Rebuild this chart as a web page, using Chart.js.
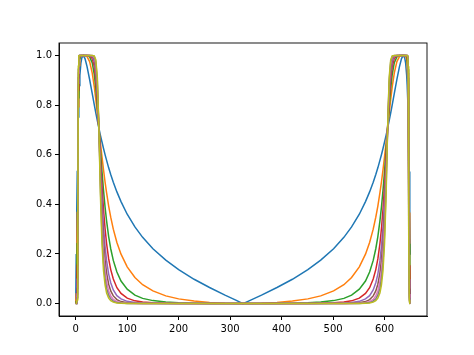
<!DOCTYPE html>
<html>
<head>
<meta charset="utf-8">
<script src="https://cdn.jsdelivr.net/npm/chart.js@4.4.1/dist/chart.umd.min.js"></script>
<style>
  body { margin: 0; background: #fff; }
  #wrap { width: 474px; height: 355px; }
</style>
</head>
<body>
<div id="wrap"><canvas id="plot"></canvas></div>
<script>
// sample positions (bin index)
const xs = [0,1,2,3,4,5,6,7,8,10,12,15,18,22,27,32,36,39,42,45,48,51,54,57,60,64,68,73,80,88,100,115,130,150,175,200,230,260,290,310,325,
  326,341,361,391,421,451,476,501,521,536,551,563,571,578,583,587,591,594,597,600,603,606,609,612,615,619,624,629,633,636,639,641,643,644,645,646,647,648,649,650];

// gain curves, one per filter order
const order1 = [0,0.197,0.378,0.532,0.656,0.752,0.825,0.879,0.919,0.969,0.992,0.999,0.987,0.955,0.903,0.847,0.802,0.769,0.737,0.707,0.678,0.651,0.625,0.600,0.577,0.547,0.520,0.489,0.450,0.411,0.360,0.309,0.267,0.221,0.175,0.137,0.098,0.065,0.034,0.015,0,
  0,0.015,0.034,0.065,0.098,0.137,0.175,0.221,0.267,0.309,0.360,0.411,0.450,0.489,0.520,0.547,0.577,0.600,0.625,0.651,0.678,0.707,0.737,0.769,0.802,0.847,0.903,0.955,0.987,0.999,0.992,0.969,0.919,0.879,0.825,0.752,0.656,0.532,0.378,0.197];
const order2 = [0,0.040,0.165,0.367,0.603,0.793,0.905,0.959,0.983,0.998,1,1,1,0.995,0.975,0.930,0.874,0.823,0.766,0.707,0.648,0.592,0.539,0.490,0.446,0.393,0.348,0.300,0.246,0.199,0.148,0.105,0.076,0.051,0.031,0.019,0.010,0.004,0.001,0,0,
  0,0,0.001,0.004,0.010,0.019,0.031,0.051,0.076,0.105,0.148,0.199,0.246,0.300,0.348,0.393,0.446,0.490,0.539,0.592,0.648,0.707,0.766,0.823,0.874,0.930,0.975,0.995,1,1,1,0.998,0.983,0.959,0.905,0.793,0.603,0.367,0.165,0.040];
const order3 = [0,0.008,0.068,0.241,0.549,0.829,0.952,0.987,0.997,1,1,1,1,1,0.994,0.971,0.924,0.867,0.793,0.707,0.618,0.533,0.456,0.389,0.332,0.270,0.221,0.174,0.127,0.091,0.058,0.034,0.021,0.012,0.006,0.003,0.001,0,0,0,0,
  0,0,0,0,0.001,0.003,0.006,0.012,0.021,0.034,0.058,0.091,0.127,0.174,0.221,0.270,0.332,0.389,0.456,0.533,0.618,0.707,0.793,0.867,0.924,0.971,0.994,1,1,1,1,1,0.997,0.987,0.952,0.829,0.549,0.241,0.068,0.008];
const order4 = [0,0.002,0.028,0.154,0.495,0.861,0.976,0.996,0.999,1,1,1,1,1,0.999,0.988,0.956,0.903,0.818,0.707,0.587,0.475,0.379,0.302,0.241,0.180,0.137,0.099,0.064,0.041,0.022,0.011,0.006,0.003,0.001,0,0,0,0,0,0,
  0,0,0,0,0,0,0.001,0.003,0.006,0.011,0.022,0.041,0.064,0.099,0.137,0.180,0.241,0.302,0.379,0.475,0.587,0.707,0.818,0.903,0.956,0.988,0.999,1,1,1,1,1,0.999,0.996,0.976,0.861,0.495,0.154,0.028,0.002];
const order5 = [0,0,0.011,0.098,0.444,0.888,0.989,0.999,1,1,1,1,1,1,1,0.995,0.975,0.930,0.840,0.707,0.556,0.419,0.311,0.231,0.172,0.119,0.084,0.055,0.032,0.019,0.009,0.004,0.002,0.001,0,0,0,0,0,0,0,
  0,0,0,0,0,0,0,0.001,0.002,0.004,0.009,0.019,0.032,0.055,0.084,0.119,0.172,0.231,0.311,0.419,0.556,0.707,0.840,0.930,0.975,0.995,1,1,1,1,1,1,1,0.999,0.989,0.888,0.444,0.098,0.011,0];
const order6 = [0,0,0.005,0.061,0.395,0.910,0.995,1,1,1,1,1,1,1,1,0.998,0.986,0.950,0.861,0.707,0.525,0.368,0.253,0.175,0.123,0.078,0.051,0.031,0.016,0.008,0.003,0.001,0,0,0,0,0,0,0,0,0,
  0,0,0,0,0,0,0,0,0,0.001,0.003,0.008,0.016,0.031,0.051,0.078,0.123,0.175,0.253,0.368,0.525,0.707,0.861,0.950,0.986,0.998,1,1,1,1,1,1,1,1,0.995,0.910,0.395,0.061,0.005,0];
const order7 = [0,0,0.002,0.039,0.350,0.929,0.997,1,1,1,1,1,1,1,1,0.999,0.992,0.965,0.880,0.707,0.495,0.321,0.205,0.132,0.087,0.051,0.031,0.017,0.008,0.004,0.001,0,0,0,0,0,0,0,0,0,0,
  0,0,0,0,0,0,0,0,0,0,0.001,0.004,0.008,0.017,0.031,0.051,0.087,0.132,0.205,0.321,0.495,0.707,0.880,0.965,0.992,0.999,1,1,1,1,1,1,1,1,0.997,0.929,0.350,0.039,0.002,0];
const order8 = [0,0,0.001,0.024,0.309,0.944,0.999,1,1,1,1,1,1,1,1,1,0.996,0.975,0.896,0.707,0.465,0.279,0.165,0.100,0.061,0.034,0.019,0.010,0.004,0.002,0,0,0,0,0,0,0,0,0,0,0,
  0,0,0,0,0,0,0,0,0,0,0,0.002,0.004,0.010,0.019,0.034,0.061,0.100,0.165,0.279,0.465,0.707,0.896,0.975,0.996,1,1,1,1,1,1,1,1,1,0.999,0.944,0.309,0.024,0.001,0];
const order9 = [0,0,0,0.015,0.272,0.956,0.999,1,1,1,1,1,1,1,1,1,0.998,0.983,0.911,0.707,0.436,0.242,0.133,0.075,0.043,0.022,0.012,0.006,0.002,0.001,0,0,0,0,0,0,0,0,0,0,0,
  0,0,0,0,0,0,0,0,0,0,0,0.001,0.002,0.006,0.012,0.022,0.043,0.075,0.133,0.242,0.436,0.707,0.911,0.983,0.998,1,1,1,1,1,1,1,1,1,0.999,0.956,0.272,0.015,0,0];

const xTicks = [0, 100, 200, 300, 400, 500, 600];
const yTicks = [0.0, 0.2, 0.4, 0.6, 0.8, 1.0];

const allSeries = [order1, order2, order3, order4, order5, order6, order7, order8, order9];
const colors = ["#1f77b4", "#ff7f0e", "#2ca02c", "#d62728", "#9467bd", "#8c564b", "#e377c2", "#7f7f7f", "#bcbd22"];

const datasets = allSeries.map((ys, i) => ({
  data: ys.map((y, j) => ({ x: xs[j], y: y })),
  borderColor: colors[i],
  borderWidth: 1.5,
  pointRadius: 0,
  tension: 0,
  fill: false,
  // later series drawn on top, like matplotlib
  order: allSeries.length - 1 - i
}));

// box around the plot area
const frame = {
  id: "frame",
  afterDatasetsDraw(chart) {
    const a = chart.chartArea;
    const ctx = chart.ctx;
    ctx.save();
    ctx.strokeStyle = "#000";
    ctx.lineWidth = 0.9;
    ctx.strokeRect(a.left, a.top, a.right - a.left, a.bottom - a.top);
    ctx.restore();
  }
};

const font = { family: "DejaVu Sans", size: 10 };

new Chart(document.getElementById("plot").getContext("2d"), {
  type: "line",
  data: { datasets: datasets },
  options: {
    responsive: true,
    maintainAspectRatio: false,
    animation: false,
    layout: { padding: { left: 0, right: 47, top: 43, bottom: 0 } },
    plugins: { legend: { display: false }, tooltip: { enabled: false } },
    scales: {
      x: {
        type: "linear",
        min: -32.5,
        max: 682.5,
        afterBuildTicks: (s) => { s.ticks = xTicks.map(v => ({ value: v })); },
        afterFit: (s) => { s.height = 39; },
        grid: { drawOnChartArea: false, drawTicks: true, tickLength: 4, color: "#000" },
        border: { display: true, color: "#000", width: 0.9 },
        ticks: { color: "#000", font: font, padding: 3, maxRotation: 0, callback: v => String(v) }
      },
      y: {
        type: "linear",
        min: -0.05,
        max: 1.05,
        afterBuildTicks: (s) => { s.ticks = yTicks.map(v => ({ value: v })); },
        afterFit: (s) => { s.width = 59; },
        grid: { drawOnChartArea: false, drawTicks: true, tickLength: 4, color: "#000" },
        border: { display: true, color: "#000", width: 0.9 },
        ticks: { color: "#000", font: font, padding: 3, callback: v => v.toFixed(1) }
      }
    }
  },
  plugins: [frame]
});
</script>
</body>
</html>
